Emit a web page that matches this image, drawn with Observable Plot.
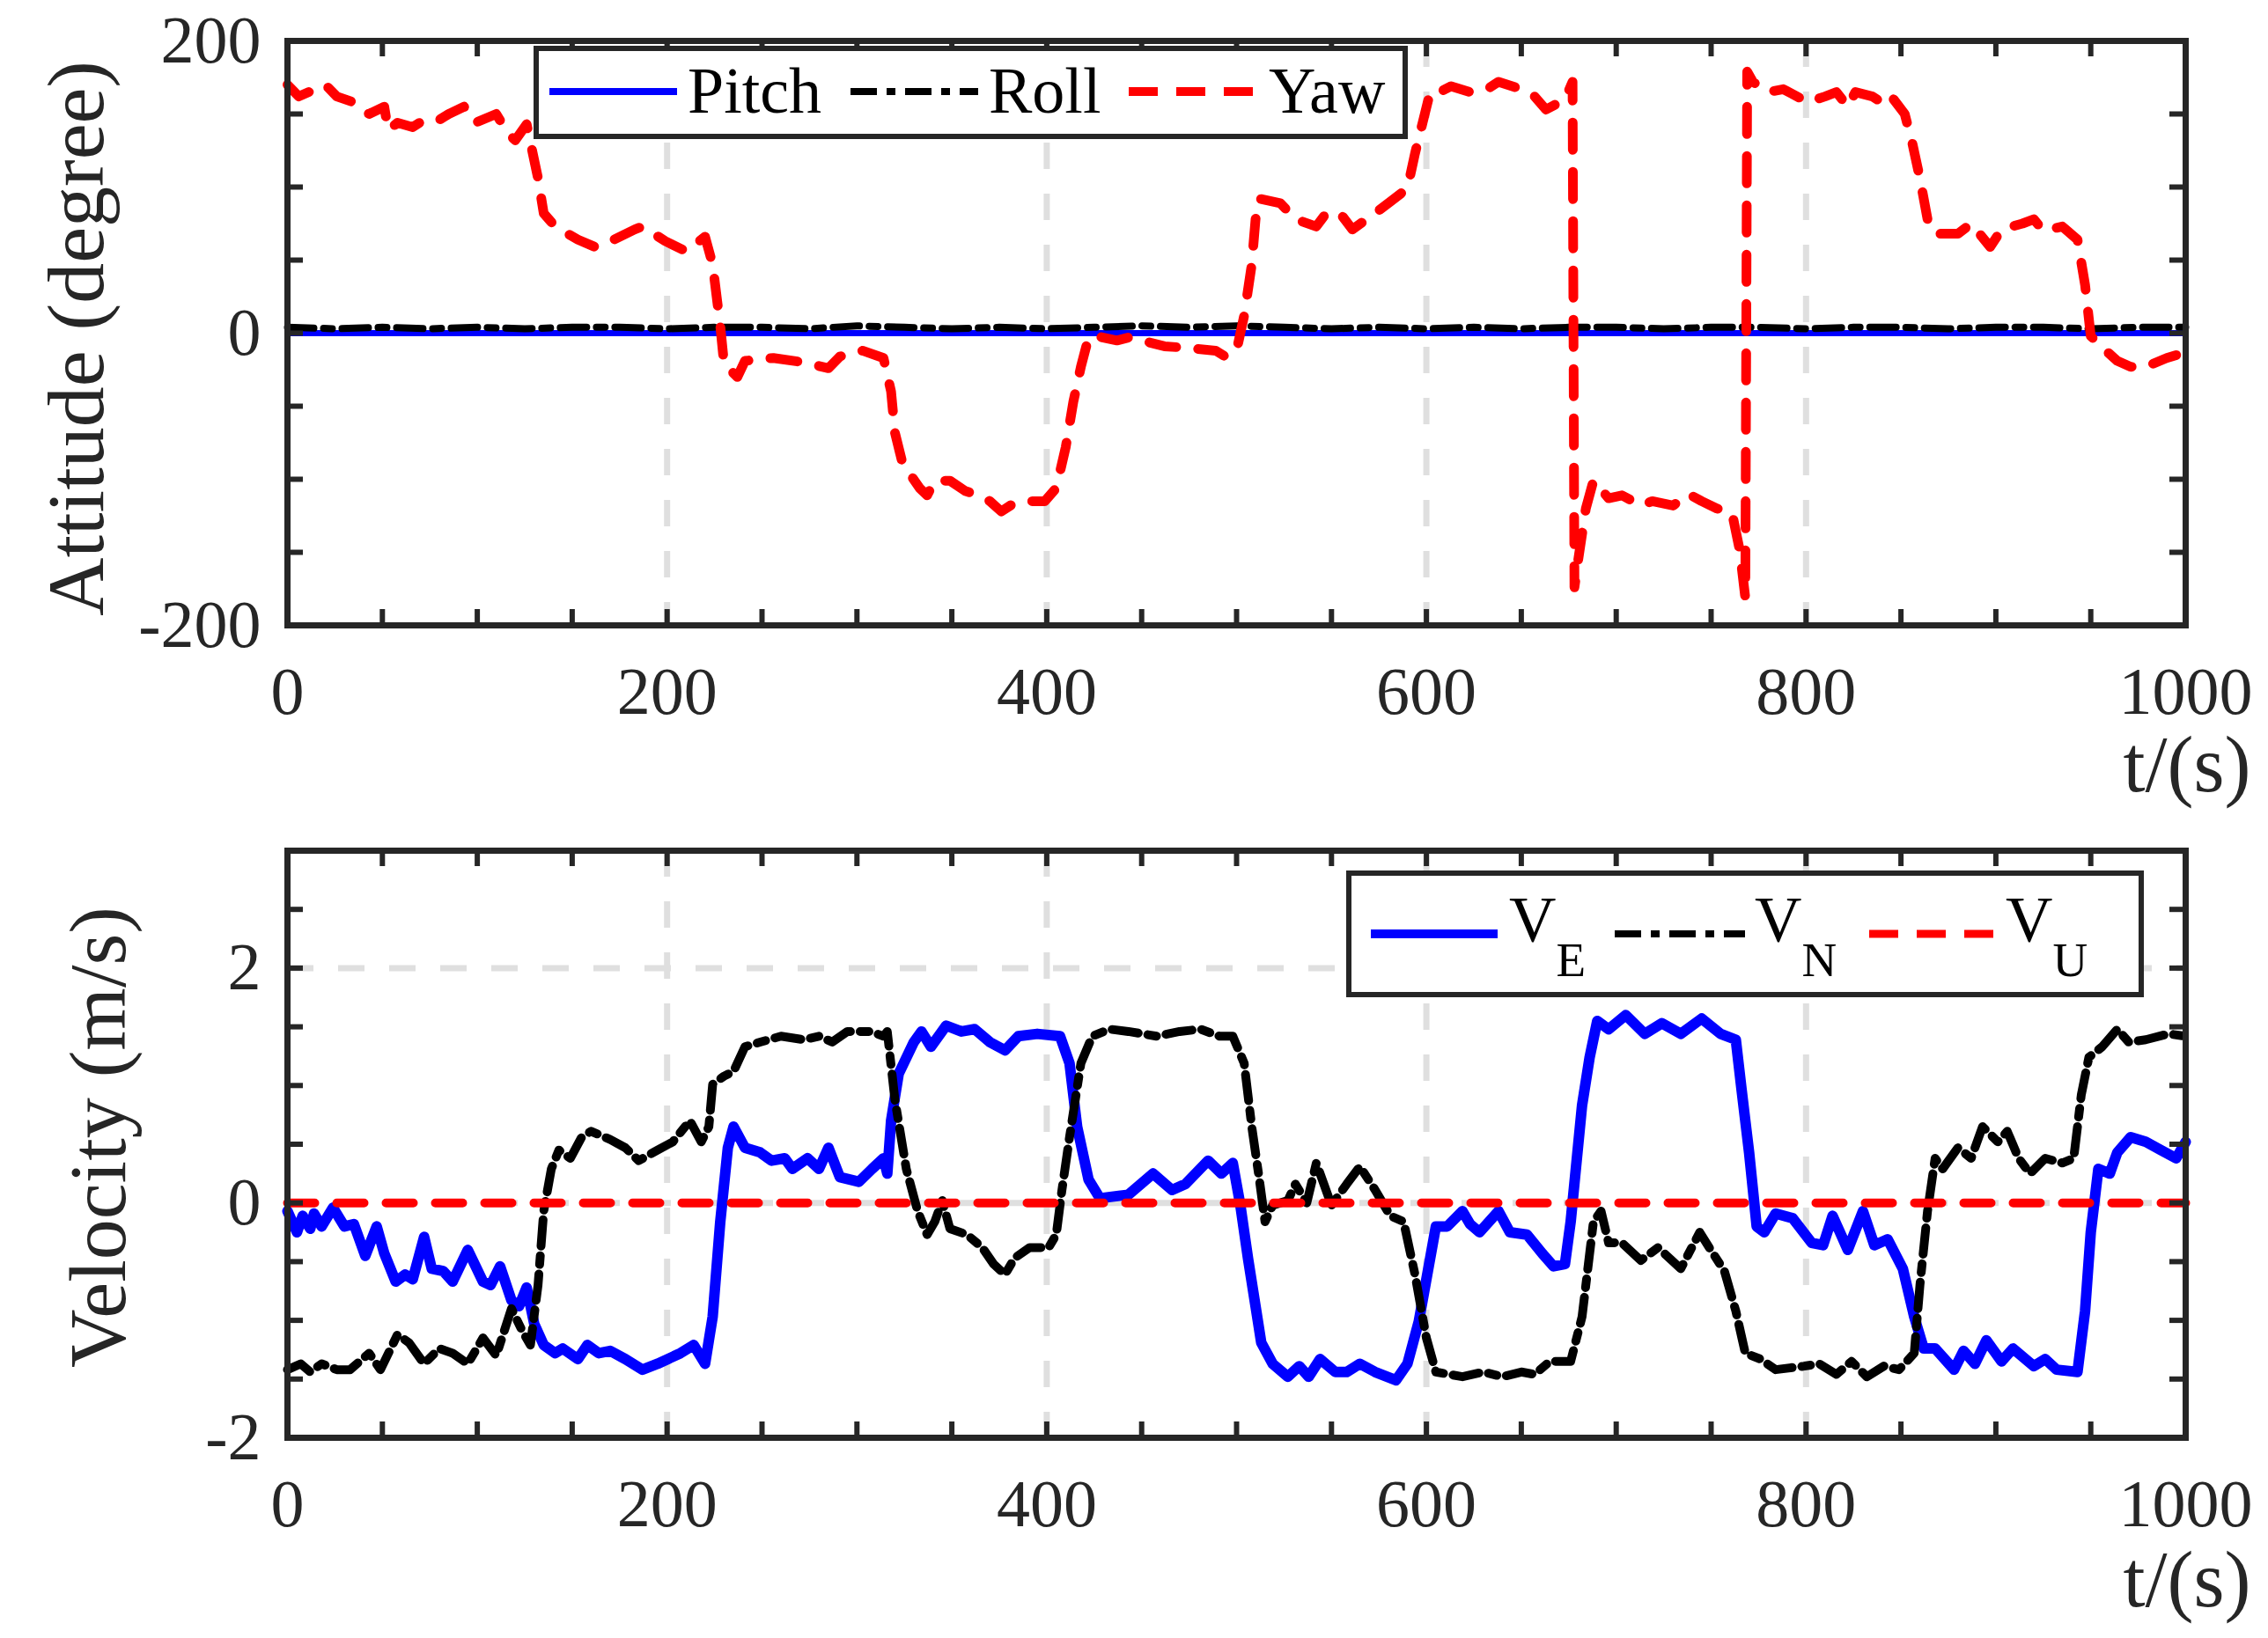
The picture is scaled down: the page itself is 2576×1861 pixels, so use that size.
<!DOCTYPE html>
<html>
<head>
<meta charset="UTF-8">
<title>Attitude and velocity</title>
<script src="https://cdn.jsdelivr.net/npm/d3@7"></script>
<script src="https://cdn.jsdelivr.net/npm/@observablehq/plot@0.6"></script>
<style>
  body { margin: 0; background: #fff; }
  #chart { position: relative; width: 2576px; height: 1861px; }
  #chart > svg { display: block; }
  #legend { position: absolute; left: 0; top: 0; }
</style>
</head>
<body>
<div id="chart"></div>
<script>
// ---- data ----
const xLabels = [0, 200, 400, 600, 800, 1000];
const xMinor = [0, 50, 100, 150, 200, 250, 300, 350, 400, 450, 500, 550, 600, 650, 700, 750, 800, 850, 900, 950, 1000];
const xGrid = [200, 400, 600, 800];

const attLabels = [-200, 0, 200];
const attMinor = [-200, -150, -100, -50, 0, 50, 100, 150, 200];
const velLabels = [-2, 0, 2];
const velMinor = [-2, -1.5, -1, -0.5, 0, 0.5, 1, 1.5, 2, 2.5, 3];

const pitchT = [0, 250, 500, 750, 1000];
const pitchV = [0, 0, 0, 0, 0];

const rollT = [0, 25, 50, 75, 100, 125, 150, 175, 200, 225, 250, 275, 300, 325, 350, 375, 400, 425, 450, 475,
  500, 525, 550, 575, 600, 625, 650, 675, 700, 725, 750, 775, 800, 825, 850, 875, 900, 925, 950, 975, 1000];
const rollV = [4, 3, 4, 3, 4, 3, 4, 4, 3, 4, 4, 3, 5, 4, 3, 4, 3, 4, 5, 4,
  5, 4, 3, 4, 3, 4, 3, 4, 4, 3, 4, 4, 3, 4, 4, 3, 4, 4, 3, 4, 4];

const yawT = [0, 6, 20, 26, 37, 43, 51, 53, 58, 66, 72, 80, 85, 93, 99, 110, 116, 120, 126, 132, 135, 141, 153, 162, 172,
  183, 187, 199, 210, 220, 224, 228, 230, 237, 241, 256, 272, 285, 291, 303, 314, 318, 320, 324, 333, 337, 341, 349, 357,
  364, 370, 376, 382, 389, 399, 405, 410, 414, 418, 422, 426, 437, 443, 450, 462, 473, 489, 494, 500, 504, 508, 510, 512,
  523, 531, 542, 546, 554, 561, 573, 581, 590, 594, 598, 602, 607, 613, 623, 632, 638, 650, 657, 663, 673, 677, 678, 680,
  684, 688, 696, 703, 713, 719, 730, 738, 745, 753, 761, 765, 768, 769, 772, 780, 788, 801, 810, 816, 822, 826, 835, 841,
  845, 852, 856, 860, 864, 868, 880, 887, 897, 903, 914, 920, 925, 935, 943, 947, 950, 958, 964, 971, 979, 990, 995];
const yawV = [170, 162, 170, 162, 157, 150, 155, 139, 144, 141, 146, 146, 150, 155, 144, 150, 137, 132, 143, 106, 82, 73, 64, 59, 64,
  71, 73, 63, 56, 66, 47, 5, -21, -30, -19, -17, -20, -24, -16, -12, -17, -40, -68, -89, -106, -111, -101, -101, -108,
  -111, -115, -122, -117, -115, -115, -106, -78, -47, -23, -3, -2, -5, -3, -5, -9, -10, -12, -16, -12, 12, 47, 78, 92,
  89, 78, 73, 80, 83, 71, 82, 90, 99, 123, 144, 165, 165, 169, 165, 167, 172, 167, 162, 153, 160, 172, -174, -155,
  -120, -101, -113, -111, -118, -115, -118, -110, -115, -120, -123, -148, -181, 179, 172, 165, 167, 158, 162, 165, 155, 165, 162, 157,
  162, 150, 130, 106, 78, 68, 68, 75, 59, 71, 75, 78, 70, 73, 64, 33, -2, -12, -19, -23, -23, -17, -15];

const veT = [0, 5, 8, 12, 14, 18, 24, 30, 35, 41, 47, 51, 57, 62, 66, 72, 76, 82, 87, 95, 103, 107, 112, 118, 122, 126,
  130, 135, 141, 145, 153, 158, 164, 170, 178, 187, 195, 207, 214, 220, 224, 228, 232, 235, 241, 249, 255, 262, 266, 274,
  280, 285, 291, 301, 308, 314, 316, 318, 322, 330, 334, 339, 347, 355, 362, 370, 378, 385, 395, 407, 412, 416, 422, 428,
  443, 456, 466, 473, 485, 492, 498, 502, 506, 510, 513, 519, 527, 533, 538, 544, 552, 558, 565, 573, 584, 590, 596, 602,
  605, 611, 619, 623, 628, 638, 644, 653, 661, 667, 673, 676, 682, 686, 690, 696, 705, 715, 724, 734, 745, 755, 763, 766,
  770, 774, 778, 784, 793, 803, 809, 814, 822, 830, 836, 843, 851, 857, 862, 868, 878, 883, 889, 895, 903, 909, 920, 926,
  932, 943, 947, 950, 954, 960, 964, 971, 979, 987, 995, 1000];
const veV = [-0.07, -0.25, -0.11, -0.22, -0.09, -0.2, -0.04, -0.2, -0.18, -0.45, -0.2, -0.43, -0.67, -0.61, -0.65, -0.29, -0.56, -0.58, -0.67, -0.4, -0.67, -0.7, -0.54, -0.83, -0.88, -0.72,
  -1.03, -1.21, -1.28, -1.24, -1.33, -1.21, -1.28, -1.26, -1.33, -1.42, -1.37, -1.28, -1.21, -1.37, -0.97, -0.16, 0.47, 0.65, 0.47, 0.43, 0.36, 0.38, 0.29, 0.38,
  0.29, 0.47, 0.22, 0.18, 0.29, 0.38, 0.25, 0.7, 1.1, 1.37, 1.46, 1.33, 1.51, 1.46, 1.48, 1.37, 1.3, 1.42, 1.44, 1.42, 1.19, 0.65, 0.2, 0.04,
  0.07, 0.25, 0.11, 0.16, 0.36, 0.25, 0.34, -0.02, -0.47, -0.88, -1.19, -1.37, -1.48, -1.39, -1.48, -1.33, -1.44, -1.44, -1.37, -1.44, -1.51, -1.37, -1.01, -0.47,
  -0.2, -0.2, -0.07, -0.18, -0.25, -0.07, -0.25, -0.27, -0.43, -0.54, -0.52, -0.16, 0.83, 1.24, 1.55, 1.48, 1.6, 1.44, 1.53, 1.44, 1.57, 1.44, 1.39, 0.97,
  0.43, -0.2, -0.25, -0.09, -0.13, -0.34, -0.36, -0.11, -0.4, -0.07, -0.36, -0.31, -0.56, -0.97, -1.24, -1.24, -1.42, -1.26, -1.37, -1.17, -1.35, -1.24, -1.39, -1.33,
  -1.42, -1.44, -0.92, -0.25, 0.29, 0.25, 0.43, 0.56, 0.52, 0.45, 0.38, 0.52];

const vnT = [0, 7, 12, 18, 26, 33, 43, 49, 58, 64, 72, 80, 87, 95, 103, 110, 118, 124, 128, 132, 135, 139, 143, 149, 155,
  160, 170, 178, 185, 195, 203, 212, 218, 222, 224, 230, 235, 241, 249, 260, 272, 280, 287, 295, 307, 314, 316, 320, 326,
  332, 337, 341, 345, 349, 358, 366, 372, 378, 383, 391, 401, 405, 408, 412, 418, 424, 433, 443, 458, 470, 481, 491, 498,
  504, 508, 512, 515, 519, 527, 531, 537, 542, 550, 558, 565, 573, 581, 588, 594, 600, 605, 619, 630, 640, 650, 657, 665,
  676, 682, 688, 692, 696, 703, 713, 722, 734, 744, 749, 757, 763, 768, 776, 784, 799, 807, 816, 824, 832, 841, 849, 857,
  860, 864, 868, 872, 880, 887, 893, 901, 906, 912, 918, 926, 935, 941, 945, 949, 956, 964, 970, 979, 991, 1000];
const vnV = [-1.42, -1.37, -1.44, -1.37, -1.42, -1.42, -1.28, -1.42, -1.12, -1.19, -1.37, -1.24, -1.28, -1.37, -1.15, -1.3, -0.9, -1.1, -1.21, -0.7, -0.07, 0.29, 0.45, 0.38, 0.56,
  0.61, 0.54, 0.47, 0.36, 0.45, 0.52, 0.7, 0.52, 0.65, 1.01, 1.08, 1.12, 1.33, 1.37, 1.42, 1.39, 1.42, 1.37, 1.46, 1.46, 1.42, 1.46, 0.88, 0.29,
  -0.07, -0.27, -0.16, 0.02, -0.22, -0.27, -0.38, -0.52, -0.61, -0.47, -0.38, -0.38, -0.27, 0.11, 0.56, 1.19, 1.42, 1.48, 1.46, 1.42, 1.46, 1.48, 1.42, 1.42,
  1.19, 0.65, 0.2, -0.16, -0.02, 0.02, 0.16, 0, 0.34, -0.02, 0.16, 0.31, 0.11, -0.11, -0.16, -0.61, -1.15, -1.44, -1.48, -1.44, -1.48, -1.44, -1.46, -1.35,
  -1.35, -0.97, -0.16, -0.07, -0.34, -0.34, -0.49, -0.38, -0.56, -0.25, -0.38, -0.58, -0.92, -1.28, -1.33, -1.42, -1.39, -1.37, -1.46, -1.35, -1.48, -1.39, -1.42, -1.28,
  -0.7, -0.07, 0.38, 0.29, 0.47, 0.38, 0.65, 0.52, 0.61, 0.38, 0.25, 0.38, 0.34, 0.38, 0.92, 1.24, 1.33, 1.48, 1.37, 1.39, 1.44, 1.42];

const vuT = [0, 250, 500, 750, 1000];
const vuV = [0, 0, 0, 0, 0];

// ---- styling ----
const W = 2576;
const ML = 326, MR = 94;
const axisColor = "#262626";
const gridColor = "#dfdfdf";
const serif = "'Liberation Serif', 'Times New Roman', serif";
const dashRed = "31,25";
const dashDot = "30,11,10,11";
const dashGrid = "30,28";
// MATLAB style labels: plain hyphen for negatives, no thousands separator
const fmt = d => (d < 0 ? "-" + Math.abs(d) : String(d));

const rows = (t, v) => t.map((d, i) => ({t: d, v: v[i]}));

function panel({height, mt, mb, yDomain, yLabels, yMinor, hGrid, lines, title, titleDx, titleDy, tDy}) {
  const innerH = height - mt - mb;
  const innerW = W - ML - MR;
  const tick = 18;
  return Plot.plot({
    width: W,
    height,
    marginTop: mt,
    marginBottom: mb,
    marginLeft: ML,
    marginRight: MR,
    style: {fontFamily: serif, color: axisColor, background: "white", overflow: "visible"},
    x: {domain: [0, 1000]},
    y: {domain: yDomain},
    marks: [
      Plot.ruleX(xGrid, {stroke: gridColor, strokeWidth: 7, strokeDasharray: dashGrid}),
      Plot.ruleY(hGrid, {stroke: gridColor, strokeWidth: 7, strokeDasharray: dashGrid}),
      ...lines.map(s => Plot.line(rows(s.t, s.v), {
        x: "t", y: "v", stroke: s.color, strokeWidth: s.width,
        strokeDasharray: s.dash, strokeLinejoin: "round"
      })),
      Plot.tickX(xMinor, {x: d => d, insetTop: innerH - tick, stroke: axisColor, strokeWidth: 6}),
      Plot.tickX(xMinor, {x: d => d, insetBottom: innerH - tick, stroke: axisColor, strokeWidth: 6}),
      Plot.tickY(yMinor, {y: d => d, insetRight: innerW - tick, stroke: axisColor, strokeWidth: 6}),
      Plot.tickY(yMinor, {y: d => d, insetLeft: innerW - tick, stroke: axisColor, strokeWidth: 6}),
      Plot.frame({stroke: axisColor, strokeWidth: 7}),
      Plot.axisX(xLabels, {tickSize: 0, tickPadding: 47, fontSize: 76, label: null, tickFormat: fmt}),
      Plot.axisY(yLabels, {tickSize: 0, tickPadding: 30, fontSize: 76, label: null, tickFormat: fmt}),
      Plot.text([title], {
        frameAnchor: "left", textAnchor: "middle", lineAnchor: "middle",
        rotate: -90, dx: titleDx, dy: titleDy, fontSize: 92
      }),
      Plot.text(["t/(s)"], {
        frameAnchor: "bottom-right", textAnchor: "end", lineAnchor: "middle",
        dx: 74, dy: tDy, fontSize: 90
      })
    ]
  });
}

const chart = document.querySelector("#chart");

chart.append(panel({
  height: 920, mt: 46, mb: 210,
  yDomain: [-200, 200], yLabels: attLabels, yMinor: attMinor, hGrid: [0],
  title: "Attitude (degree)", titleDx: -239, titleDy: 6, tDy: 160,
  lines: [
    {t: pitchT, v: pitchV, color: "#0000ff", width: 7},
    {t: rollT, v: rollV, color: "#000000", width: 8, dash: dashDot},
    {t: yawT, v: yawV, color: "#ff0000", width: 11, dash: dashRed}
  ]
}));

chart.append(panel({
  height: 941, mt: 46, mb: 228,
  yDomain: [-2, 3], yLabels: velLabels, yMinor: velMinor, hGrid: [0, 2],
  title: "Velocity (m/s)", titleDx: -214, titleDy: -8, tDy: 163,
  lines: [
    {t: veT, v: veV, color: "#0000ff", width: 12},
    {t: vnT, v: vnV, color: "#000000", width: 10, dash: dashDot},
    {t: vuT, v: vuV, color: "#ff0000", width: 10, dash: dashRed}
  ]
}));

// ---- legends (drawn on top, like MATLAB's legend boxes) ----
const leg = d3.select(chart).append("svg")
  .attr("id", "legend")
  .attr("width", W)
  .attr("height", 1861)
  .style("font-family", serif)
  .attr("fill", "#000");

function legendBox(x, y, w, h) {
  leg.append("rect").attr("x", x).attr("y", y).attr("width", w).attr("height", h)
    .attr("fill", "white").attr("stroke", axisColor).attr("stroke-width", 6);
}
function swatch(x1, x2, y, color, width, dash) {
  leg.append("line").attr("x1", x1).attr("x2", x2).attr("y1", y).attr("y2", y)
    .attr("stroke", color).attr("stroke-width", width).attr("stroke-dasharray", dash || null);
}
function entry(x, y, txt, sub, subDy) {
  const t = leg.append("text").attr("x", x).attr("y", y).attr("font-size", 74).text(txt);
  if (sub) t.append("tspan").attr("dy", subDy).attr("font-size", 55).text(sub);
}

legendBox(609, 55, 987, 100);
swatch(624, 769, 104, "#0000ff", 8);
entry(781, 128, "Pitch");
swatch(966, 1111, 104, "#000000", 8, dashDot);
entry(1123, 128, "Roll");
swatch(1282, 1433, 104, "#ff0000", 10, "33,21");
entry(1441, 128, "Yaw");

legendBox(1532, 992, 900, 138);
swatch(1557, 1701, 1061, "#0000ff", 10);
entry(1714, 1070, "V", "E", 39);
swatch(1834, 1982, 1061, "#000000", 8, dashDot);
entry(1993, 1070, "V", "N", 39);
swatch(2123, 2268, 1061, "#ff0000", 9, "33,21");
entry(2278, 1070, "V", "U", 39);
</script>
</body>
</html>
